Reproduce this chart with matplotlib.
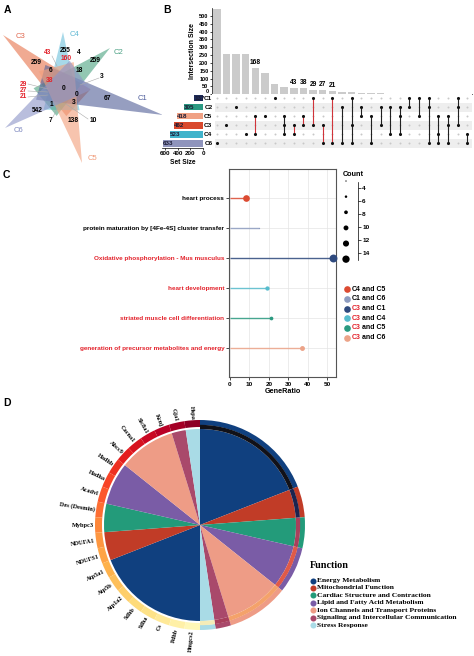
import numpy as np
import matplotlib.pyplot as plt
from matplotlib.patches import Polygon, Wedge

plt.rcParams['font.family'] = ['Liberation Sans', 'DejaVu Sans']
plt.rcParams['font.weight'] = 'bold'
plt.rcParams['axes.labelweight'] = 'bold'

W, H = 474, 656
fig = plt.figure(figsize=(W / 100, H / 100), dpi=100)


def ax_px(x0, y0, x1, y1):
    # axes placed by pixel box, origin at top left
    return fig.add_axes([x0 / W, 1 - y1 / H, (x1 - x0) / W, (y1 - y0) / H])


def ftext(x, y, s, **kw):
    fig.text(x / W, 1 - y / H, s, **kw)


# ---------------- data ----------------
# A: venn
venn_names = ['C3', 'C4', 'C2', 'C1', 'C5', 'C6']
venn_fill = ['#e8764f', '#72c2dc', '#4fa584', '#56639a', '#f3a07c', '#8e96c8']
venn_text_col = ['#e0674e', '#5fb8d3', '#4aa083', '#4b5a99', '#f09a78', '#7d88bf']
venn_values = ['255', '4', '43', '160', '259', '259', '6', '18', '3', '38', '29', '27',
               '21', '0', '0', '67', '1', '3', '542', '7', '138', '10']
venn_red = [False, False, True, True, False, False, False, False, False, True, True, True,
            True, False, False, False, False, False, False, False, False, False]

# B: upset
set_names = ['C1', 'C2', 'C5', 'C3', 'C4', 'C6']
set_sizes = [137, 305, 418, 462, 523, 633]
set_colors = ['#1d2b57', '#2b9a83', '#f0a184', '#d9492d', '#40b3cb', '#8f94bc']
inter_sizes = [542, 259, 259, 255, 168, 138, 67, 48, 43, 38, 29, 27, 21,
               15, 12, 10, 8, 6, 5, 5, 4, 4, 3, 3, 3, 2, 2]
inter_sets = [['C6'], ['C3'], ['C2'], ['C4'], ['C5', 'C4'], ['C5'], ['C1'],
              ['C5', 'C3', 'C4'], ['C3', 'C4'], ['C5', 'C3'], ['C1', 'C3'], ['C3', 'C6'],
              ['C1', 'C6'], ['C2', 'C6'], ['C1', 'C3', 'C6'], ['C2', 'C5'], ['C5', 'C6'],
              ['C2', 'C3'], ['C2', 'C4'], ['C2', 'C5', 'C4'], ['C1', 'C2'], ['C1', 'C5'],
              ['C1', 'C2', 'C6'], ['C5', 'C4', 'C6'], ['C5', 'C3', 'C6'], ['C1', 'C2', 'C3'],
              ['C4', 'C6']]
inter_red = [4, 8, 9, 10, 11, 12]

# C: enrichment
terms = ['heart process', 'protein maturation by [4Fe-4S] cluster transfer',
         'Oxidative phosphorylation - Mus musculus', 'heart development',
         'striated muscle cell differentiation', 'generation of precursor metabolites and energy']
gene_ratio = [8, 15, 53, 19, 21, 37]
counts = [13, 4, 15, 9, 8, 10]
groups = ['C4 and C5', 'C1 and C6', 'C3 and C1', 'C3 and C4', 'C3 and C5', 'C3 and C6']
group_colors = ['#dc4b32', '#8d9cc0', '#2f4a7e', '#56bccd', '#2a9a80', '#eca388']
term_red = [False, False, True, True, True, True]
count_ticks = [4, 6, 8, 10, 12, 14]

# D: gene / function circle
genes = ['Hspa', 'Gja1', 'Kcnj', 'Slc8a1', 'Cacna1', 'Abcc9', 'Hadhb', 'Hadha', 'Acadvl',
         'Des (Desmin)', 'Mybpc3', 'NDUFA1', 'NDUFS1', 'Atp5a1', 'Atp5b', 'Atp1a2', 'Sdhb',
         'Sdha', 'Cs', 'Pdhb', 'Hmgcs2']
gene_func = [6, 5, 4, 4, 4, 4, 3, 3, 3, 2, 2, 1, 1, 0, 0, 0, 0, 0, 0, 0, 0]
functions = ['Energy Metabolism', 'Mitochondrial Function', 'Cardiac Structure and Contraction',
             'Lipid and Fatty Acid Metabolism', 'Ion Channels and Transport Proteins',
             'Signaling and Intercellular Communication', 'Stress Response']
func_colors = ['#10407f', '#c13c27', '#239b7a', '#7a5ca6', '#ee9c86', '#a9496b', '#a9dbe6']
track_colors = ['#111118', '#1c2450', '#a8405c', '#e05a48', '#f4a26a', '#a8405c', '#f4ecb8']

RED = '#e3222b'

# panel letters
for s, x, y in [('A', 4, 10), ('B', 163, 10), ('C', 3, 175), ('D', 3, 403)]:
    ftext(x, y, s, fontsize=7.5, va='center')

# ---------------- A ----------------
axA = ax_px(0, 20, 170, 172)
axA.set_xlim(0, 170)
axA.set_ylim(172, 20)
axA.axis('off')
center = np.array([62.0, 88.0])
tips = [(3, 35), (63, 32), (110, 48), (163, 115), (82, 163), (5, 128)]
for tip, c in zip(tips, venn_fill):
    tip = np.array(tip, float)
    d = (center - tip) / np.linalg.norm(center - tip)
    perp = np.array([-d[1], d[0]])
    bc = center + d * 22
    axA.add_patch(Polygon([tip, bc + perp * 18, bc - perp * 18], closed=True,
                          facecolor=c, alpha=0.62, lw=0))
name_pos = [(21, 37), (75, 35), (118, 53), (143, 98), (92, 158), (19, 130)]
for n, p, c in zip(venn_names, name_pos, venn_text_col):
    axA.text(p[0], p[1], n, color=c, fontsize=5.5, ha='center', va='center', weight='normal')
val_pos = [(65, 50), (79, 53), (48, 53), (66, 59), (36, 62), (95, 60), (51, 71), (79, 70),
           (102, 77), (50, 81), (23, 84), (23, 91), (23, 97), (64, 88), (77, 95), (108, 99),
           (51, 104), (74, 102), (37, 111), (51, 120), (73, 121), (93, 120)]
leaders = [((28, 84), (48, 89)), ((28, 91), (48, 92)), ((28, 97), (48, 95)),
           ((52, 56), (57, 66)), ((99, 78), (80, 85)), ((88, 119), (66, 104)),
           ((53, 117), (58, 107))]
for a, b in leaders:
    axA.plot([a[0], b[0]], [a[1], b[1]], color='#aaaaaa', lw=0.4)
for v, p, r in zip(venn_values, val_pos, venn_red):
    axA.text(p[0], p[1], v, color=RED if r else 'black', fontsize=4.8,
             ha='center', va='center')

# ---------------- B ----------------
ncol = len(inter_sizes)
axB = ax_px(212, 8, 472, 94.3)
axB.bar(range(ncol), inter_sizes, width=0.78, color='#cbcbcb')
axB.set_xlim(-0.5, ncol - 0.5)
axB.set_ylim(0, 550)
axB.set_yticks(range(0, 501, 50))
axB.set_xticks(range(ncol))
axB.set_xticklabels([])
axB.tick_params(labelsize=4, length=1.5, width=0.5, pad=1)
axB.get_yticklabels()[0].set_verticalalignment('bottom')
for sp in ['top', 'right']:
    axB.spines[sp].set_visible(False)
for sp in ['left', 'bottom']:
    axB.spines[sp].set_linewidth(0.5)
axB.set_ylabel('Intersection Size', fontsize=5, labelpad=2)
for j in inter_red:
    if j == 4 or j >= 8:
        axB.text(j, inter_sizes[j] + 12, str(inter_sizes[j]), fontsize=4.8, ha='center',
                 va='bottom')

axM = ax_px(212, 93.5, 472, 148)
axM.set_xlim(-0.5, ncol - 0.5)
axM.set_ylim(len(set_names) - 0.5, -0.5)
for i in (1, 3, 5):
    axM.axhspan(i - 0.5, i + 0.5, xmin=0.01, color='#eeeeee', lw=0, zorder=0)
for j in range(ncol):
    axM.scatter([j] * len(set_names), range(len(set_names)), s=2, color='#c8c8c8', lw=0, zorder=1)
    rows = [set_names.index(s) for s in inter_sets[j]]
    col = '#d0343a' if j in inter_red else '#222222'
    if len(rows) > 1:
        axM.plot([j, j], [min(rows), max(rows)], color=col, lw=0.8, zorder=2)
    axM.scatter([j] * len(rows), rows, s=5, color='#111111', lw=0, zorder=3)
for i, n in enumerate(set_names):
    axM.text(-0.45, i + 0.05, n, fontsize=4.6, ha='right', va='center')
axM.set_xticks([])
axM.set_yticks([])
for sp in axM.spines.values():
    sp.set_visible(False)

axS = ax_px(162, 93.5, 203, 148)
axS.barh(range(len(set_names)), set_sizes, height=0.72, color=set_colors)
axS.set_ylim(len(set_names) - 0.5, -0.5)
axS.set_xlim(650, 0)
for i, v in enumerate(set_sizes):
    axS.text(v, i, str(v), fontsize=4.5, ha='left', va='center', color='#1a1a33')
axS.set_yticks([])
axS.set_xticks([600, 400, 200, 0])
axS.tick_params(labelsize=4.5, length=1.5, width=0.5, pad=1)
for sp in ['top', 'right', 'left']:
    axS.spines[sp].set_visible(False)
axS.spines['bottom'].set_linewidth(0.5)
axS.set_xlabel('Set Size', fontsize=4.8, labelpad=2)


# ---------------- C ----------------
def dot_size(c):
    d = 1.3 + (c - 4) * 0.6  # diameter in px
    return (d * 0.72) ** 2


axC = ax_px(229, 169, 336, 377)
ypos = np.arange(1, len(terms) + 1)
for y, x, c, col in zip(ypos, gene_ratio, counts, group_colors):
    axC.hlines(y, 0, x, color=col, lw=1.0, alpha=0.85, zorder=2)
    axC.scatter(x, y, s=dot_size(c), color=col, lw=0, zorder=3, clip_on=False)
axC.set_xlim(-0.5, 54.6)
axC.set_ylim(6.97, 0.03)
axC.set_xticks(range(0, 51, 10))
axC.set_yticks(ypos)
axC.set_yticklabels(terms)
for lab, r in zip(axC.get_yticklabels(), term_red):
    lab.set_color(RED if r else 'black')
axC.tick_params(labelsize=4.6, length=2, width=0.5, pad=1.5)
axC.grid(color='#e4e4e4', lw=0.5)
axC.set_axisbelow(True)
for sp in axC.spines.values():
    sp.set_color('#555555')
    sp.set_linewidth(0.8)
axC.set_xlabel('GeneRatio', fontsize=5.2, labelpad=1)

# count legend
axK = ax_px(338, 178, 358, 262)
axK.set_xlim(0, 20)
axK.set_ylim(15.44, 2.40)
leg_y = np.linspace(2.87, 15.0, len(count_ticks))
axK.scatter([8] * len(count_ticks), leg_y, s=[dot_size(c) for c in count_ticks],
            color='black', lw=0, clip_on=False)
for sp in ['top', 'left', 'bottom']:
    axK.spines[sp].set_visible(False)
axK.spines['right'].set_bounds(2.97, 15.1)
axK.spines['right'].set_linewidth(0.5)
axK.yaxis.tick_right()
axK.set_yticks(count_ticks)
axK.set_xticks([])
axK.tick_params(labelsize=4.6, length=2, width=0.5, pad=1)
axK.patch.set_alpha(0)
ftext(343, 174, 'Count', fontsize=5.2, va='center')

# colour legend
axL = ax_px(338, 282, 420, 345)
axL.set_xlim(338, 420)
axL.set_ylim(345, 282)
axL.axis('off')
for k, (g, col) in enumerate(zip(groups, group_colors)):
    y = 289.3 + 9.67 * k
    axL.scatter(346.7, y, s=23, color=col, lw=0)
    first, rest = g.split(' ', 1)
    t = axL.text(351.3, y, first, fontsize=5, va='center', color=RED if first == 'C3' else 'black')
    axL.annotate(' ' + rest, xy=(1, 0.5), xycoords=t, fontsize=5, va='center', ha='left')

# ---------------- D ----------------
axD = ax_px(0, 380, 474, 656)
axD.set_xlim(0, 474)
axD.set_ylim(0, 276)
axD.axis('off')
cx, cy = 200, 131
step = 180 / len(genes)
gene_cols = plt.cm.YlOrRd(np.linspace(0.97, 0.06, len(genes)))
for i, g in enumerate(genes):
    a0 = 90 + i * step
    axD.add_patch(Wedge((cx, cy), 105, a0, a0 + step, width=7, color=gene_cols[i], lw=0))
    mid = np.deg2rad(a0 + step / 2)
    axD.text(cx + 106 * np.cos(mid), cy + 106 * np.sin(mid), g, rotation=np.degrees(mid) - 180,
             ha='right', va='center', rotation_mode='anchor', fontsize=4.5,
             family='Liberation Serif')
for f in range(len(functions)):
    idx = [i for i, gf in enumerate(gene_func) if gf == f]
    a0 = 90 + min(idx) * step
    a1 = 90 + (max(idx) + 1) * step
    axD.add_patch(Wedge((cx, cy), 96, a0, a1, color=func_colors[f], lw=0))
    axD.add_patch(Wedge((cx, cy), 96, a0 + 180, a1 + 180, color=func_colors[f], lw=0))
    axD.add_patch(Wedge((cx, cy), 105, a0 + 180, a1 + 180, width=5, color=func_colors[f], lw=0))
    axD.add_patch(Wedge((cx, cy), 100.2, a0 + 180, a1 + 180, width=4.2, color=track_colors[f], lw=0))

axD.text(310, 656 - 566, 'Function', fontsize=7.3, family='Liberation Serif', va='center')
for k, (fn, col) in enumerate(zip(functions, func_colors)):
    y = 656 - (580.5 + 7.45 * k)
    axD.scatter(312.7, y, s=19, color=col, lw=0)
    axD.text(316.8, y, fn, fontsize=5.4, family='Liberation Serif', va='center')

fig.savefig('out.png', dpi=100)
